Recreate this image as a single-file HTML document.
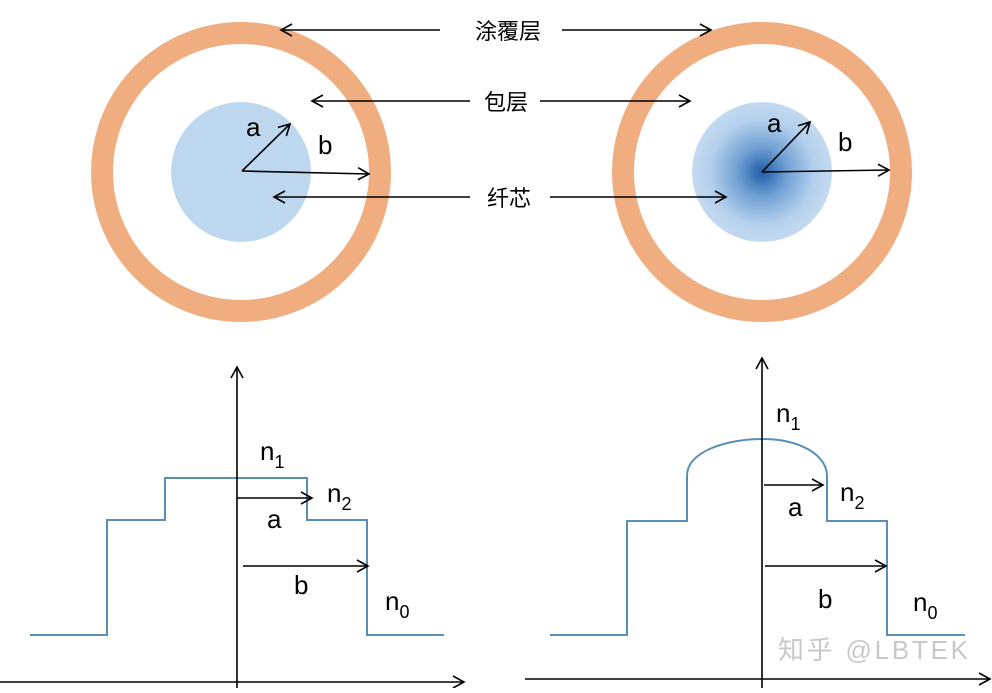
<!DOCTYPE html>
<html><head><meta charset="utf-8"><style>
html,body{margin:0;padding:0;background:#fff;}
svg text{font-family:"Liberation Sans","Noto Sans CJK SC",sans-serif;fill:#000;}
</style></head><body>
<svg width="992" height="688" viewBox="0 0 992 688" xmlns="http://www.w3.org/2000/svg">
<defs>
<marker id="ah" markerWidth="14" markerHeight="14" refX="12" refY="7" orient="auto" markerUnits="userSpaceOnUse">
<path d="M1,1 L12,7 L1,13" fill="none" stroke="#000" stroke-width="1.6"/>
</marker>
<radialGradient id="g" cx="0.5" cy="0.5" r="0.5">
<stop offset="0" stop-color="#1f5ea8"/>
<stop offset="0.35" stop-color="#6f9fd3"/>
<stop offset="0.75" stop-color="#b4d0ec"/>
<stop offset="1" stop-color="#c3daf0"/>
</radialGradient>
</defs>
<circle cx="241" cy="172" r="139" fill="none" stroke="#f0ad7f" stroke-width="22"/>
<circle cx="241" cy="172" r="70" fill="#bdd7ee"/>
<circle cx="762" cy="172" r="139" fill="none" stroke="#f0ad7f" stroke-width="22"/>
<circle cx="762" cy="172" r="70" fill="url(#g)"/>
<g stroke="#000" stroke-width="1.6" fill="none">
<line x1="440" y1="30" x2="281" y2="30" marker-end="url(#ah)"/>
<line x1="562" y1="30" x2="711" y2="30" marker-end="url(#ah)"/>
<line x1="470" y1="101" x2="312" y2="101" marker-end="url(#ah)"/>
<line x1="540" y1="101" x2="690" y2="101" marker-end="url(#ah)"/>
<line x1="470" y1="197" x2="274" y2="197" marker-end="url(#ah)"/>
<line x1="550" y1="197" x2="726" y2="197" marker-end="url(#ah)"/>
<line x1="242" y1="171" x2="290" y2="124" marker-end="url(#ah)"/>
<line x1="242" y1="171" x2="369" y2="174" marker-end="url(#ah)"/>
<line x1="762" y1="172" x2="810" y2="122" marker-end="url(#ah)"/>
<line x1="762" y1="172" x2="889" y2="170" marker-end="url(#ah)"/>
</g>
<text x="508" y="39" font-size="22" text-anchor="middle">涂覆层</text>
<text x="506" y="110" font-size="22" text-anchor="middle">包层</text>
<text x="509" y="206" font-size="22" text-anchor="middle">纤芯</text>
<text x="246" y="136" font-size="26">a</text>
<text x="318" y="154" font-size="26">b</text>
<text x="767" y="132" font-size="26">a</text>
<text x="838" y="151" font-size="26">b</text>
<polyline points="30,635 107,635 107,520 165,520 165,478 307,478 307,520 367,520 367,635 444,635" fill="none" stroke="#5a8fb5" stroke-width="2"/>
<g stroke="#000" stroke-width="1.6" fill="none">
<line x1="237" y1="688" x2="237" y2="367" marker-end="url(#ah)"/>
<line x1="0" y1="682" x2="464" y2="682" marker-end="url(#ah)"/>
<line x1="237" y1="498" x2="312" y2="498" marker-end="url(#ah)"/>
<line x1="243" y1="566" x2="368" y2="566" marker-end="url(#ah)"/>
</g>
<text x="260" y="460" font-size="26">n<tspan font-size="18" dy="8">1</tspan></text>
<text x="327" y="502" font-size="26">n<tspan font-size="18" dy="8">2</tspan></text>
<text x="267" y="528" font-size="26">a</text>
<text x="294" y="594" font-size="26">b</text>
<text x="385" y="610" font-size="26">n<tspan font-size="18" dy="8">0</tspan></text>
<path d="M550,635 L627,635 L627,521 L687,521 L687,476 C687,450 730,439 762,439 C800,439 827,455 827,476 L827,521 L887,521 L887,635 L965,635" fill="none" stroke="#5a8fb5" stroke-width="2"/>
<g stroke="#000" stroke-width="1.6" fill="none">
<line x1="762" y1="688" x2="762" y2="358" marker-end="url(#ah)"/>
<line x1="525" y1="679" x2="990" y2="679" marker-end="url(#ah)"/>
<line x1="764" y1="485" x2="823" y2="485" marker-end="url(#ah)"/>
<line x1="765" y1="566" x2="886" y2="566" marker-end="url(#ah)"/>
</g>
<text x="776" y="422" font-size="26">n<tspan font-size="18" dy="8">1</tspan></text>
<text x="840" y="501" font-size="26">n<tspan font-size="18" dy="8">2</tspan></text>
<text x="788" y="516" font-size="26">a</text>
<text x="818" y="608" font-size="26">b</text>
<text x="913" y="611" font-size="26">n<tspan font-size="18" dy="8">0</tspan></text>
<text x="778" y="659" font-size="26" textLength="190" style="fill:#c8c8c8">知乎 @LBTEK</text>
</svg>
</body></html>
